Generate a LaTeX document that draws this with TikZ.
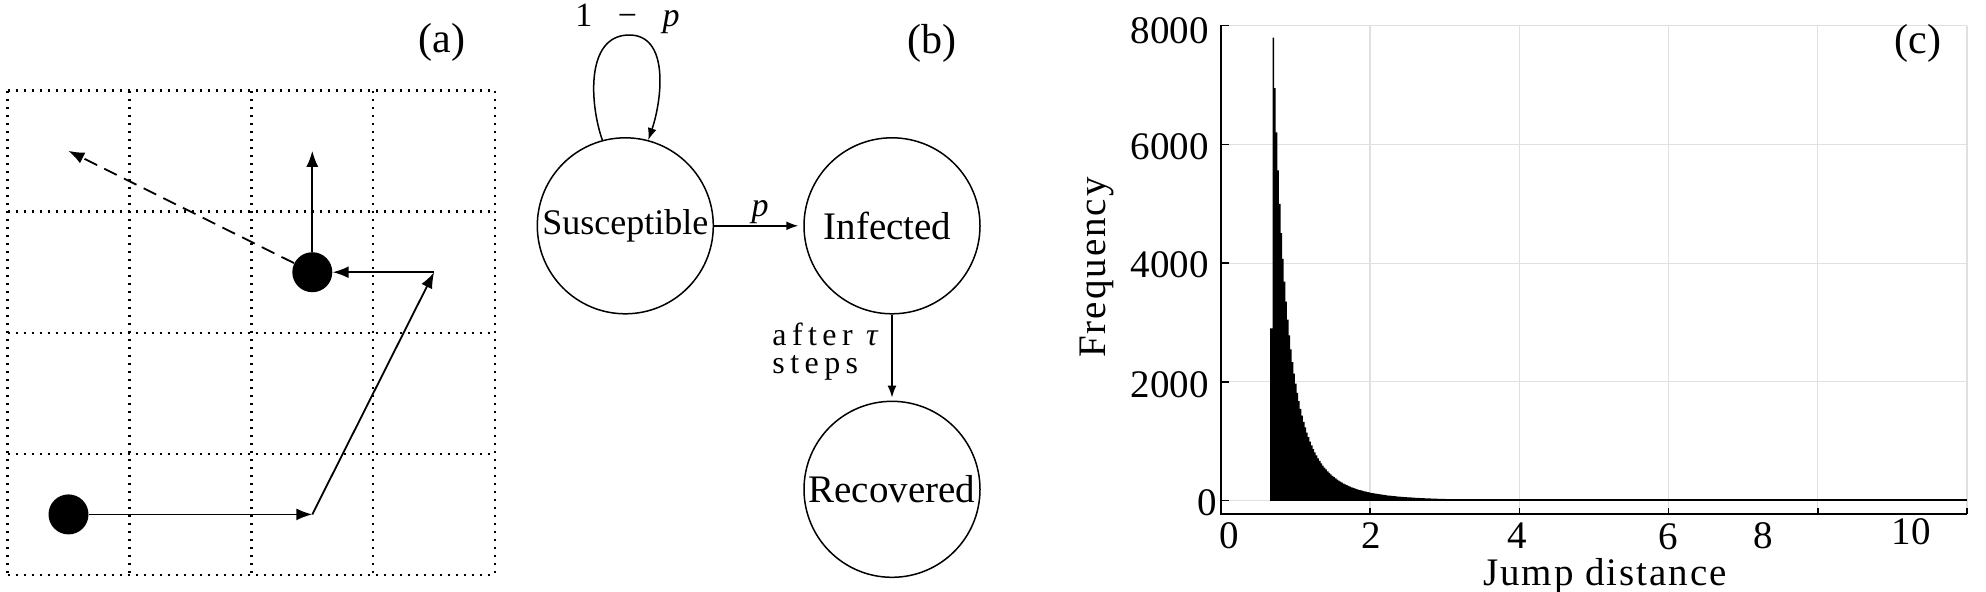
\documentclass[tikz,border=0pt]{standalone}
\usepackage{fontspec}
\setmainfont{Liberation Serif}
\newfontfamily\spacedfont[LetterSpace=17]{Liberation Serif}
\newfontfamily\axisfont[LetterSpace=5]{Liberation Serif}
\usetikzlibrary{arrows.meta}
\begin{document}
\begin{tikzpicture}[x=0.5pt,y=-0.5pt,
  gridln/.style={dash pattern=on 1.1pt off 2.9pt, line width=1.2pt},
  walker/.style={circle, fill=black, minimum size=20pt, inner sep=0pt},
  arr/.style={-{Latex[length=8pt,width=6pt]}, line width=0.9pt},
  state/.style={circle, draw, line width=0.75pt, minimum size=88pt, inner sep=0pt, font=\fontsize{19.5}{21}\selectfont},
  sarr/.style={-{Latex[length=6pt,width=4.5pt]}, line width=0.75pt},
  plotgrid/.style={black!12, line width=0.6pt},
  ticklab/.style={inner sep=0pt, font=\fontsize{19.5}{21}\selectfont},
  axlab/.style={inner sep=0pt, font=\fontsize{19.5}{21}\selectfont\axisfont},
  panel/.style={inner sep=0pt, font=\fontsize{21}{23}\selectfont},
  elabel/.style={inner sep=0pt, font=\fontsize{17}{19}\selectfont},
]
\useasboundingbox (0,0) rectangle (1986,591);

% ---------------- (a) ----------------
\foreach \k in {0,...,4} {
  \draw[gridln] (7.5+121.9*\k,90.5) -- (7.5+121.9*\k,574.9);
  \draw[gridln] (7.5,90.5+121.1*\k) -- (495.1,90.5+121.1*\k);
}
\node[walker] (d1) at (68.5,514.4) {};
\node[walker] (d2) at (312.3,272.2) {};
\coordinate (c1) at (312.3,514.4);
\coordinate (c2) at (434.1,272.2);
\coordinate (c3) at (312.3,150.8);
\coordinate (c4) at (68.3,150.8);
\draw[arr] (d1) -- (c1);
\draw[arr] (c1) -- (c2);
\draw[arr] (c2) -- (d2);
\draw[arr] (d2) -- (c3);
\draw[arr, dash pattern=on 7pt off 4pt] (d2) -- (c4);
\node[panel] (pa) at (441.7,42.4) {(a)};

% ---------------- (b) ----------------
\node[state, font=\fontsize{18}{20}\selectfont] (S) at (625.3,225.8) {Susceptible};
\node[state] (I) at (892,225.8) {\hspace*{-4.5pt}Infected};
\node[state] (R) at (892,489.3) {Recovered};
\draw[sarr, shorten >=2.5pt] (S) -- (I);
\node[elabel, anchor=base] (lp) at (760,216.5) {\textit{p}};
\draw[sarr, shorten >=1.5pt] (I) -- (R);
\draw[sarr] (S.105) .. controls (590,105) and (585,36) .. (628.3,35)
  .. controls (670,34) and (662,100) .. (S.75);
\node[elabel, anchor=base west] (lq) at (575,26) {1\hspace{0.75em}−\hspace{0.75em}\textit{p}};
\node[anchor=base west, inner sep=0pt, font=\fontsize{16}{14.15}\selectfont\spacedfont] (lt) at (772,345)
  {\begin{tabular}[t]{@{}l@{}}after \textit{τ}\\steps\end{tabular}};
\node[panel] (pb) at (931.7,43.4) {(b)};

% ---------------- (c) ----------------
\foreach \gx in {1370,1519.3,1668.3,1817.7,1967}
  \draw[plotgrid] (\gx,25.6) -- (\gx,514.3);
\foreach \gy in {25.6,144.4,263.1,381.8,500.6}
  \draw[plotgrid] (1220.7,\gy) -- (1967,\gy);
% histogram as one staircase outline
\fill (1270,500.6) -- (1270,328.4) -- (1272.5,328.4)
  foreach \i [evaluate=\i as \xl using {1272.5+1.6*(\i-1)},
              evaluate=\i as \yt using {500.6-463.1*exp(-3.9*ln((52.9+1.6*(\i-1))/52.9))}]
    in {1,...,206} { -- (\xl,\yt) -- ({\xl+1.6},\yt) }
  -- (1602.5,500.6) -- cycle;
\draw[line width=1pt] (1270,499.8) -- (1967,499.8);
% axes
\draw[line width=1pt] (1220.7,25) -- (1220.7,514.3) -- (1967,514.3);
\foreach \gy in {25.6,144.4,263.1,381.8,500.6}
  \draw[line width=0.8pt] (1220.7,\gy) -- (1229,\gy);
\foreach \gx in {1370,1519.3,1668.3,1817.7,1967}
  \draw[line width=0.8pt] (\gx,514.3) -- (\gx,507.5);
% tick labels
\node[ticklab, anchor=east] (y8) at (1209,31) {8000};
\node[ticklab, anchor=east] (y6) at (1209,147) {6000};
\node[ticklab, anchor=east] (y4) at (1209,265) {4000};
\node[ticklab, anchor=east] (y2) at (1209,385) {2000};
\node[ticklab, anchor=east] (y0) at (1217,503) {0};
\node[ticklab] (x0) at (1229,535.5) {0};
\node[ticklab] (x2) at (1371,535.5) {2};
\node[ticklab] (x4) at (1517.5,535.5) {4};
\node[ticklab] (x6) at (1668,537) {6};
\node[ticklab] (x8) at (1763,535.5) {8};
\node[ticklab] (x10) at (1911,532) {10};
\node[axlab, anchor=base] (xl) at (1605,585) {Jump distance};
\node[axlab, rotate=90] (yl) at (1096.7,267.5) {Frequency};
\node[panel] (pc) at (1918,43.3) {(c)};
\end{tikzpicture}
\end{document}
